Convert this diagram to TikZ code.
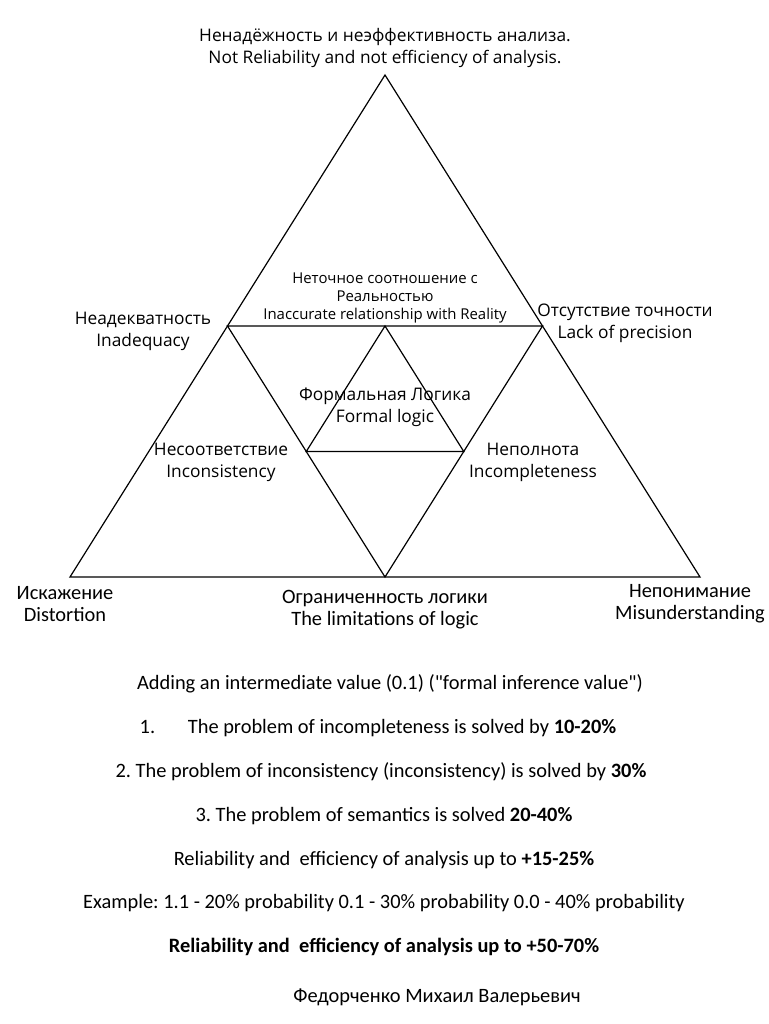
\documentclass[tikz,border=0pt]{standalone}
\usepackage{fontspec}
\setmainfont{Carlito}
\newfontfamily\segoe{Open Sans}
\frenchspacing

\tikzset{
  seg/.style={align=center, inner sep=0pt, font=\segoe\fontsize{13}{16.5}\selectfont},
  segsmall/.style={align=center, inner sep=0pt, font=\segoe\fontsize{11.2}{13.5}\selectfont},
  cal/.style={align=center, inner sep=0pt, font=\fontsize{15.3}{16.5}\selectfont},
  edge/.style={line width=0.9pt, line join=miter},
}

\begin{document}
\begin{tikzpicture}[x=0.75pt,y=-0.75pt]
    \useasboundingbox (0,0) rectangle (768,1024);
    % Corners and midpoints
    \coordinate (top) at (385,75);
    \coordinate (bl) at (70,577);
    \coordinate (br) at (700,577);
    \coordinate (ml) at (227.5,326);
    \coordinate (mr) at (542.5,326);
    \coordinate (mb) at (385,577);
    \coordinate (il) at (306.25,451.5);
    \coordinate (ir) at (463.75,451.5);
    % Triangles
    \draw[edge] (top) -- (br) -- (bl) -- cycle;
    \draw[edge] (ml) -- (mr) -- (mb) -- cycle;
    \draw[edge] (385,326) -- (ir) -- (il) -- cycle;
    % Corner labels
    \node[seg] (unrel) at (385,48) {Ненадёжность и неэффективность анализа.\\Not Reliability and not efficiency of analysis.};
    \node[seg] (inadeq) at (143,331) {Неадекватность\\Inadequacy};
    \node[seg] (lackprec) at (625,323) {Отсутствие точности\\Lack of precision};
    \node[cal] (distort) at (65,604) {Искажение\\Distortion};
    \node[cal] (limits) at (385,610) {Ограниченность логики\\The limitations of logic};
    \node[cal] (misund) at (690,604) {Непонимание\\Misunderstanding};
    % Inner labels
    \node[segsmall] (inacc) at (385,298) {Неточное соотношение с\\Реальностью\\Inaccurate relationship with Reality};
    \node[seg] (formal) at (385,407) {Формальная Логика\\Formal logic};
    \node[seg] (inconsist) at (221,462) {Несоответствие\\Inconsistency};
    \node[seg] (incompl) at (533,462) {Неполнота\\Incompleteness};
    % Notes below
    \node[cal] (note0) at (390,684) {Adding an intermediate value (0.1) (\textquotedbl formal inference value\textquotedbl)};
    \node[cal] (note1) at (378,728) {1.\hspace{1.6em}The problem of incompleteness is solved by \textbf{10-20\%}};
    \node[cal] (note2) at (381,772) {2. The problem of inconsistency (inconsistency) is solved by \textbf{30\%}};
    \node[cal] (note3) at (384,816) {3. The problem of semantics is solved \textbf{20-40\%}};
    \node[cal] (note4) at (384,860) {Reliability and\ \ efficiency of analysis up to \textbf{+15-25\%}};
    \node[cal] (note5) at (384,903) {Example: 1.1 - 20\% probability 0.1 - 30\% probability 0.0 - 40\% probability};
    \node[cal] (note6) at (384,947) {\textbf{Reliability and\ \ efficiency of analysis up to +50-70\%}};
    \node[cal] (author) at (437,997) {Федорченко Михаил Валерьевич};
\end{tikzpicture}
\end{document}
